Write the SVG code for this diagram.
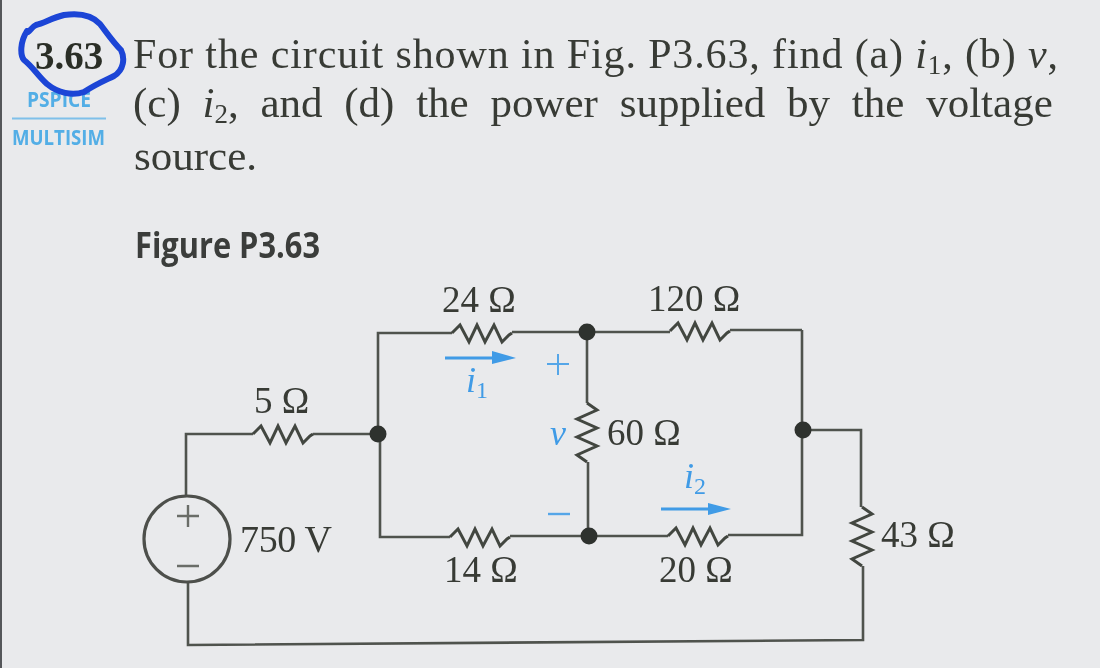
<svg xmlns="http://www.w3.org/2000/svg" width="1100" height="668" viewBox="0 0 1100 668">
<style>
.t{font-family:"Liberation Serif","Times New Roman",serif;fill:#383b36}
.p{font-size:42px}
.v{font-size:37px}
.w{fill:none;stroke:#50534e;stroke-width:2.6;stroke-linejoin:miter}
.c{fill:none;stroke:#434641;stroke-width:3}
.d{fill:#2e302d}
.a{stroke:#3f9be6;stroke-width:3;fill:none}
.h{fill:#3f9be6}
.l{font-family:"Liberation Serif","Times New Roman",serif;fill:#3f9be6}
.s{font-family:"Open Sans","Liberation Sans",sans-serif;font-weight:700;fill:#52aee6}
</style>
<defs>
<path id="rh" class="c" d="M0 0L8 -8L17 9L25 -8L33 9L42 -8L50 9L57 2L60 0"/>
<path id="rv" class="c" d="M0 0L10 7L-10 16L10 25L-10 34L10 43L-10 52L0 59"/>
<filter id="soft" x="-2%" y="-2%" width="104%" height="104%"><feGaussianBlur stdDeviation="0.6"/></filter>
</defs>
<rect width="1100" height="668" fill="#e9eaec"/>
<rect width="2" height="668" fill="#55575a"/>
<g filter="url(#soft)">
<g id="problem-text">
<text class="t" x="35" y="69" style="font-size:39px;font-weight:700;fill:#2c2f28">3.63</text>
<text class="t p" x="133" y="68" textLength="925" lengthAdjust="spacing">For the circuit shown in Fig. P3.63, find (a) <tspan font-style="italic">i</tspan><tspan font-size="27" dy="6">1</tspan><tspan dy="-6">, (b) </tspan><tspan font-style="italic">v</tspan>,</text>
<text class="t" font-size="43" x="133" y="117" word-spacing="11">(c) <tspan font-style="italic">i</tspan><tspan font-size="27" dy="6">2</tspan><tspan dy="-6">, and (d) the power supplied by the voltage</tspan></text>
<text class="t" font-size="43" x="134" y="170">source.</text>
<text x="135" y="258" textLength="185" lengthAdjust="spacingAndGlyphs" style="font-family:'Open Sans','Liberation Sans',sans-serif;font-weight:700;font-size:35px;fill:#3a3d3a">Figure P3.63</text>
</g>
<g id="badge">
<text class="s" x="27" y="107" font-size="21" textLength="64" lengthAdjust="spacingAndGlyphs">PSPICE</text>
<path d="M12 118.500H106" stroke="#7fc0ea" stroke-width="2" fill="none"/>
<text class="s" x="12" y="145" font-size="21" textLength="93" lengthAdjust="spacingAndGlyphs">MULTISIM</text>
</g>
<g id="connectors">
<path class="w" d="M186 495V434H253M313 434H378M378 434V333H452M512 332H670M730 330H802M802 330V535H728M668 536H510M450 537H380V434M587 332V403M588 462V536M803 430H861V507M863 566V640L188 645V583"/>
</g>
<g id="source-750V">
<circle cx="187" cy="539" r="43" fill="none" stroke="#4d504b" stroke-width="3.200"/>
<path d="M177 516H199M188 505V527M177 566H199" stroke="#6a6d68" stroke-width="2.400" fill="none"/>
<text class="t" x="240" y="552" font-size="38" textLength="92" lengthAdjust="spacing">750 V</text>
</g>
<g id="r-5"><use href="#rh" x="253" y="434"/><text class="t v" x="254" y="413">5 Ω</text></g>
<g id="r-24"><use href="#rh" x="452" y="333"/><text class="t v" x="442" y="312">24 Ω</text></g>
<g id="r-120"><use href="#rh" x="670" y="331"/><text class="t v" x="648" y="311">120 Ω</text></g>
<g id="r-60"><use href="#rv" x="587" y="403"/><text class="t v" x="607" y="445">60 Ω</text></g>
<g id="r-14"><use href="#rh" x="450" y="537"/><text class="t v" x="444" y="582">14 Ω</text></g>
<g id="r-20"><use href="#rh" x="668" y="536"/><text class="t v" x="659" y="582">20 Ω</text></g>
<g id="r-43"><use href="#rv" x="862" y="507"/><text class="t v" x="881" y="547">43 Ω</text></g>
<g id="junctions">
<circle class="d" cx="378" cy="434" r="8.500"/>
<circle class="d" cx="587" cy="332" r="8.500"/>
<circle class="d" cx="589" cy="536" r="8.500"/>
<circle class="d" cx="803" cy="430" r="8.500"/>
</g>
<g id="i1-arrow">
<path class="a" d="M445 358H498"/><path class="h" d="M492 351L516 358L492 364Z"/>
<text class="l" x="466" y="392" font-size="36" font-style="italic">i<tspan font-size="24" font-style="normal" dy="6">1</tspan></text>
</g>
<g id="v-label">
<path d="M547 364H569M558 354V375" stroke="#54a6e8" stroke-width="2" fill="none"/>
<path d="M548 514H570" stroke="#54a6e8" stroke-width="2.400" fill="none"/>
<text class="l" x="550" y="445" font-size="36" font-style="italic">v</text>
</g>
<g id="i2-arrow">
<path class="a" d="M661 509H712"/><path class="h" d="M708 503L731 509L708 515Z"/>
<text class="l" x="684" y="488" font-size="36" font-style="italic">i<tspan font-size="24" font-style="normal" dy="6">2</tspan></text>
</g>
<path id="hand-circle" d="M27 31C20 42 20 55 24 60C33 67 38 76 47 84C58 93 72 96 84 92C96 84 106 80 114 76C124 70 125 58 121 50C113 42 107 33 100 24C91 14 78 13 64 15C52 18 44 23 36 25C31 27 28 35 27 31Z" fill="none" stroke="#1a44d6" stroke-width="6" stroke-linejoin="round"/>
</g>
</svg>
